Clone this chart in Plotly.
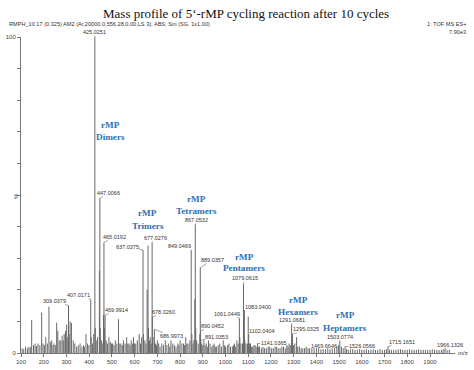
import plotly.graph_objects as go

# ---------------- data ----------------
# labelled peaks (m/z, relative intensity %)
label_mz = [425.0251, 447.0066, 465.0192, 469.9914, 407.0171, 309.0379,
            637.0375, 677.0276, 678.0260, 686.9973, 849.0469, 867.0532,
            889.0357, 890.0452, 891.0353, 1061.0449, 1079.0615, 1083.0400,
            1102.0404, 1141.0365, 1291.0681, 1295.0325, 1469.6646, 1503.0774,
            1526.0566, 1715.1651, 1966.1326]
label_int = [100, 49, 35, 12, 17, 15,
             32.6, 35, 11.4, 7.5, 32.6, 40.7,
             27, 7, 4, 11, 21.8, 13.6,
             6, 3, 9, 6, 1.5, 3.5,
             2, 2, 1.5]

# other (unlabelled) peaks
minor_mz = [105, 112, 120, 128, 135, 141, 147, 155, 162, 168, 175, 183, 191, 197, 203, 209,
            216, 223, 229, 235, 241, 245, 251, 257, 262, 268, 275, 281, 286, 290, 296, 301,
            306, 312, 316, 322, 330, 337, 345, 352, 360, 368, 375, 380, 386, 393, 399, 409,
            415, 420, 427, 431, 437, 445, 449, 455, 460, 463, 467, 475, 481, 487, 493, 498,
            503, 509, 515, 522, 529, 535, 540, 546, 551, 558, 565, 570, 575, 580, 585, 590,
            595, 600, 605, 612, 620, 626, 631, 639, 645, 650, 655, 659, 661, 666, 669, 673,
            681, 692, 696, 700, 706, 712, 720, 727, 735, 742, 750, 755, 760, 768, 775, 782,
            790, 795, 800, 808, 815, 820, 825, 830, 835, 843, 852, 857, 861, 865, 869, 873,
            880, 887, 895, 900, 905, 910, 915, 920, 925, 932, 940, 945, 950, 955, 960, 968,
            975, 982, 990, 995, 1000, 1008, 1015, 1022, 1030, 1035, 1040, 1045, 1050, 1056,
            1063, 1068, 1075, 1081, 1085, 1090, 1097, 1100, 1106, 1110, 1115, 1120, 1125, 1130,
            1135, 1146, 1150, 1158, 1165, 1172, 1180, 1188, 1195, 1203, 1210, 1218, 1225, 1232,
            1240, 1248, 1255, 1263, 1270, 1275, 1280, 1285, 1293, 1300, 1305, 1313, 1318, 1325,
            1333, 1340, 1348, 1355, 1363, 1370, 1380, 1390, 1400, 1410, 1420, 1430, 1440, 1450,
            1460, 1480, 1490, 1497, 1510, 1518, 1533, 1540, 1550, 1560, 1570, 1580, 1590, 1600,
            1610, 1620, 1630, 1640, 1650, 1660, 1670, 1680, 1690, 1700, 1708, 1722, 1730, 1740,
            1750, 1760, 1770, 1780, 1790, 1800, 1810, 1820, 1830, 1840, 1850, 1860, 1870, 1880,
            1890, 1900, 1910, 1920, 1930, 1940, 1950, 1958, 1975, 1985]
minor_int = [1.5, 1.2, 2, 1.5, 2, 1.8, 10.4, 2.5, 3, 2.2, 3, 2.5, 12.8, 3, 2.5, 5,
             3, 14.7, 3.5, 4, 2.5, 3, 2.5, 9.6, 7, 4, 4, 5.5, 4, 6, 7, 9,
             5, 6, 10, 9.5, 4, 3, 2, 2.5, 3, 2, 2.5, 2, 6, 3, 2.5, 5,
             3, 6, 8, 4, 5, 26, 8, 4, 3, 12, 8, 4, 3, 5, 3.5, 3,
             3, 2.5, 4, 3, 10.7, 3, 3, 2.5, 4, 3, 5, 3, 3, 2.5, 4, 3,
             5, 3, 3, 4, 6, 3, 5, 6, 4, 3, 20, 34, 8, 4, 5, 3,
             5, 3, 2.5, 4, 3, 2, 3, 2.5, 4, 2.5, 3, 2, 4, 3, 2.5, 2,
             3, 2.5, 4, 3, 3, 2.5, 5, 3, 3, 4, 6, 3, 4, 17, 8, 4,
             3, 6, 3, 2.5, 4, 2.5, 3, 2, 4, 3, 2, 2.5, 3, 2, 2, 2.5,
             3, 2, 4, 2.5, 2, 2.5, 3, 2, 2, 2.5, 3, 2, 4, 3,
             5, 3, 3, 5, 4, 3, 3, 11.5, 3, 3, 2, 2, 2.5, 2.5,
             2, 2, 2, 1.5, 2, 1.5, 1.5, 2, 2, 1.5, 1.5, 2, 2, 1.5,
             1.5, 2, 2, 1.5, 2.5, 2, 3, 2.5, 4, 2.5, 3, 5, 2, 2,
             1.5, 1.5, 1.5, 2, 1.5, 1.5, 1.5, 1.5, 1.5, 1.5, 1.2, 1.2, 1.2, 1.5,
             1.2, 1.5, 2, 2.5, 2, 1.5, 1.2, 1, 1.2, 1.2, 1, 1, 1.2, 1,
             1, 1.2, 1, 1, 1.2, 1, 1, 1.2, 1, 1, 1.2, 1, 1, 1,
             1, 1.2, 1.2, 1, 1, 1, 1.2, 1, 1, 1, 1.2, 1, 1, 1,
             1, 1, 1.2, 1, 1, 1, 1, 1.2, 1, 1]

group_names = ["Dimers", "Trimers", "Tetramers", "Pentamers", "Hexamers", "Heptamers"]
x_ticks = list(range(100, 2000, 100))

# ---------------- layout constants (pixels) ----------------
W, H = 474, 370
L, R, T, B = 21, 19, 37, 17
XMIN, XMAX = 100, 2010
YMIN, YMAX = 0, 100
pw, ph = W - L - R, H - T - B


def px2x(px):
    return XMIN + (px - L) / pw * (XMAX - XMIN)


def py2y(py):
    return YMAX - (py - T) / ph * (YMAX - YMIN)


def x2px(x):
    return L + (x - XMIN) / (XMAX - XMIN) * pw


def y2py(y):
    return T + (YMAX - y) / (YMAX - YMIN) * ph


def px2paper(px):
    return (px - L) / pw


def py2paper(py):
    return (H - B - py) / ph


# ---------------- spectrum sticks ----------------
all_mz = minor_mz + label_mz
all_int = minor_int + label_int
order = sorted(range(len(all_mz)), key=lambda i: all_int[i])
xs, ys = [], []
for i in order:
    xs += [all_mz[i], all_mz[i], None]
    ys += [0, all_int[i], None]

fig = go.Figure()
fig.add_trace(go.Scatter(x=xs, y=ys, mode="lines",
                         line=dict(color="#686868", width=1),
                         hoverinfo="skip", showlegend=False))

# ---------------- peak labels ----------------
# label centre positions in pixels (layout only)
label_pos = [(95, 32), (108, 193), (115, 237), (117, 310), (79, 295), (54, 301),
             (127, 247), (155, 238), (164, 312), (172, 336), (180, 246.5), (197, 220),
             (212, 260), (212, 326), (217, 336.5), (227, 314), (245, 278.5), (258, 307),
             (262, 331), (274, 343), (292, 319.5), (306, 329), (324, 346), (340, 336.5),
             (362, 346), (402, 342), (450, 345)]

annotations = []
for mz, inten, (lx, ly) in zip(label_mz, label_int, label_pos):
    hx, hy = x2px(mz), y2py(inten)
    annotations.append(dict(
        x=mz, y=inten, xref="x", yref="y",
        text=f"{mz:.4f}", showarrow=True, arrowhead=0, arrowwidth=0.6,
        arrowcolor="#666", ax=lx - hx, ay=ly - hy,
        font=dict(family="Liberation Sans, Arial", size=5.5, color="#333"),
        bgcolor="rgba(0,0,0,0)", borderpad=0))

# ---------------- group labels ----------------
group_pos = [(110, 125, 137), (147.5, 213, 226), (196.7, 199, 211), (244, 256.5, 268),
             (298, 300, 312), (345, 315, 328)]
gfont = dict(family="Liberation Serif, Times New Roman", size=9.2, color="#2e6fb3")
for name, (gx, gy1, gy2) in zip(group_names, group_pos):
    annotations.append(dict(x=px2x(gx), y=py2y(gy1), xref="x", yref="y", showarrow=False,
                            text="<b>rMP</b>", font=gfont, borderpad=0))
    annotations.append(dict(x=px2x(gx), y=py2y(gy2), xref="x", yref="y", showarrow=False,
                            text=f"<b>{name}</b>", font=gfont, borderpad=0))

# ---------------- header texts ----------------
small = dict(family="Liberation Sans, Arial", size=5.6, color="#333")
annotations += [
    dict(x=px2paper(246), y=py2paper(13), xref="paper", yref="paper", xanchor="center",
         yanchor="middle", showarrow=False,
         text="Mass profile of 5‘-rMP cycling reaction after 10 cycles",
         font=dict(family="Liberation Serif, Times New Roman", size=13, color="#111")),
    dict(x=px2paper(7), y=py2paper(24), xref="paper", yref="paper", xanchor="left",
         yanchor="middle", showarrow=False,
         text="RMPH_10 17 (0.325) AM2 (Ar,20000.0,556.28,0.00,LS 3); ABS; Sm (SG, 1x1.00)",
         font=small),
    dict(x=px2paper(468), y=py2paper(24), xref="paper", yref="paper", xanchor="right",
         yanchor="middle", showarrow=False, text="1: TOF MS ES+", font=small),
    dict(x=px2paper(468), y=py2paper(32), xref="paper", yref="paper", xanchor="right",
         yanchor="middle", showarrow=False, text="7.90e3", font=small),
    dict(x=px2paper(16), y=py2paper(196), xref="paper", yref="paper", xanchor="center",
         yanchor="middle", showarrow=False, text="%", textangle=-90,
         font=dict(family="Liberation Sans, Arial", size=6, color="#333")),
    dict(x=px2paper(463), y=py2paper(353), xref="paper", yref="paper", xanchor="center",
         yanchor="middle", showarrow=False, text="m/z",
         font=dict(family="Liberation Sans, Arial", size=6, color="#333")),
]

y_tickvals = list(range(0, 101, 10))
y_ticktext = ["0"] + [""] * 9 + ["100"]

fig.update_layout(
    width=W, height=H,
    margin=dict(l=L, r=R, t=T, b=B, pad=0, autoexpand=False),
    paper_bgcolor="white", plot_bgcolor="white",
    showlegend=False,
    annotations=annotations,
    xaxis=dict(range=[XMIN, XMAX], showline=True, linecolor="#777", linewidth=1,
               ticks="outside", ticklen=3, tickcolor="#777", tickwidth=1,
               tickvals=x_ticks, ticktext=[str(v) for v in x_ticks],
               tickfont=dict(family="Liberation Sans, Arial", size=6, color="#444"),
               showgrid=False, zeroline=False, fixedrange=True, automargin=False),
    yaxis=dict(range=[YMIN, YMAX], showline=True, linecolor="#777", linewidth=1,
               ticks="outside", ticklen=3, tickcolor="#777", tickwidth=1,
               tickvals=y_tickvals, ticktext=y_ticktext,
               tickfont=dict(family="Liberation Sans, Arial", size=6, color="#444"),
               showgrid=False, zeroline=False, fixedrange=True, automargin=False),
)

fig.write_html("out.html", config={"displayModeBar": False},
               post_script="document.body.style.margin='0';document.body.style.overflow='hidden';")
